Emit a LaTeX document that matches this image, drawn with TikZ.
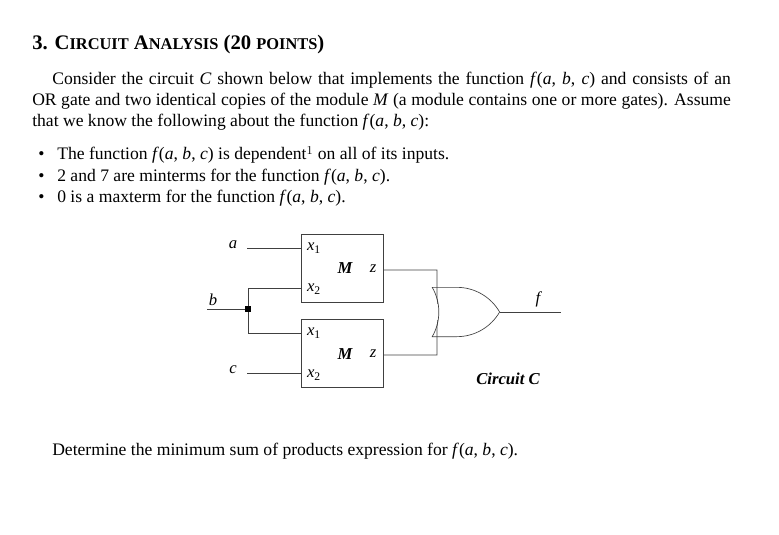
\documentclass[tikz,border=0pt]{standalone}
\usepackage{fontspec}
\setmainfont{Liberation Serif}
\usetikzlibrary{shapes.gates.logic.US}
\begin{document}
\begin{tikzpicture}[x=0.75pt,y=-0.75pt,
  txt/.style={anchor=base west,inner sep=0,font=\fontsize{13.2}{15}\selectfont},
  wire/.style={line width=0.5pt,draw=black!75},
  mbox/.style={draw=black!75,line width=0.5pt,minimum width=61.5pt,minimum height=51pt,inner sep=0,anchor=north west},
  pin/.style={inner sep=0,font=\fontsize{12.5}{13}\selectfont\itshape}]
\useasboundingbox (0,0) rectangle (779,535);
\node[txt,font=\fontsize{15.5}{17}\selectfont\bfseries] (title) at (32,50) {3. C{\fontsize{12.3}{13}\selectfont IRCUIT} A{\fontsize{12.3}{13}\selectfont NALYSIS} (20 {\fontsize{12.3}{13}\selectfont POINTS})};
\node[txt] (l1) at (52,85) {\makebox[509pt][s]{Consider the circuit \textit{C} shown below that implements the function \textit{f}(\textit{a}, \textit{b}, \textit{c}) and consists of an}};
\node[txt] (l2) at (32,106) {\makebox[524pt][s]{OR gate and two identical copies of the module \textit{M} (a module contains one or more gates). Assume}};
\node[txt] (l3) at (32,127) {that we know the following about the function \textit{f}(\textit{a}, \textit{b}, \textit{c}):};
\node[txt] (b1) at (38,160) {•};
\node[txt] (t1) at (57,160) {The function \textit{f}(\textit{a}, \textit{b}, \textit{c}) is dependent$^{1}$ on all of its inputs.};
\node[txt] (b2) at (38,181) {•};
\node[txt] (t2) at (57,181) {2 and 7 are minterms for the function \textit{f}(\textit{a}, \textit{b}, \textit{c}).};
\node[txt] (b3) at (38,202) {•};
\node[txt] (t3) at (57,202) {0 is a maxterm for the function \textit{f}(\textit{a}, \textit{b}, \textit{c}).};
\node[txt] (q) at (52,455) {Determine the minimum sum of products expression for \textit{f}(\textit{a}, \textit{b}, \textit{c}).};
% circuit
\node[mbox] (m1) at (301,234) {};
\node[mbox] (m2) at (301,319) {};
\node[pin,font=\fontsize{12.5}{13}\selectfont\bfseries\itshape] at (345,268) {M};
\node[pin,font=\fontsize{12.5}{13}\selectfont\bfseries\itshape] at (345,354) {M};
\node[pin] at (314,248) {x\textsubscript{\upshape 1}};
\node[pin] at (314,289) {x\textsubscript{\upshape 2}};
\node[pin] at (314,333) {x\textsubscript{\upshape 1}};
\node[pin] at (314,375) {x\textsubscript{\upshape 2}};
\node[pin] at (373,269) {z};
\node[pin] at (373,354) {z};
\node[pin] (la) at (233,245) {a};
\node[pin] (lb) at (213,300) {b};
\node[pin] (lc) at (233,370) {c};
\node[pin] (lf) at (538,299) {f};
\node[pin,font=\fontsize{12.5}{13}\selectfont\bfseries\itshape] (cc) at (508,379) {Circuit C};
\coordinate (ja) at (247,248);
\coordinate (jc) at (247,373);
\coordinate (bs) at (207,309);
\coordinate (j) at (248,309);
\coordinate (fo) at (561,312);
\node[or gate US,draw=black!75,line width=0.5pt,logic gate inputs=nn,minimum width=38pt,minimum height=37pt,inner sep=0,anchor=output] (g) at (500,312) {};
\draw[wire] (ja) -- (301,248);
\draw[wire] (jc) -- (301,373);
\draw[wire] (bs) -- (j) -- (248,288) -- (301,288);
\draw[wire] (j) -- (248,333) -- (301,333);
\fill (j) ++(-3,-3) rectangle ++(6,6);
\draw[wire] (383,270) -- (437,270) -- (437,298) -- (g.input 1);
\draw[wire] (383,355) -- (437,355) -- (437,327) -- (g.input 2);
\draw[wire] (g.output) -- (fo);
\end{tikzpicture}
\end{document}
